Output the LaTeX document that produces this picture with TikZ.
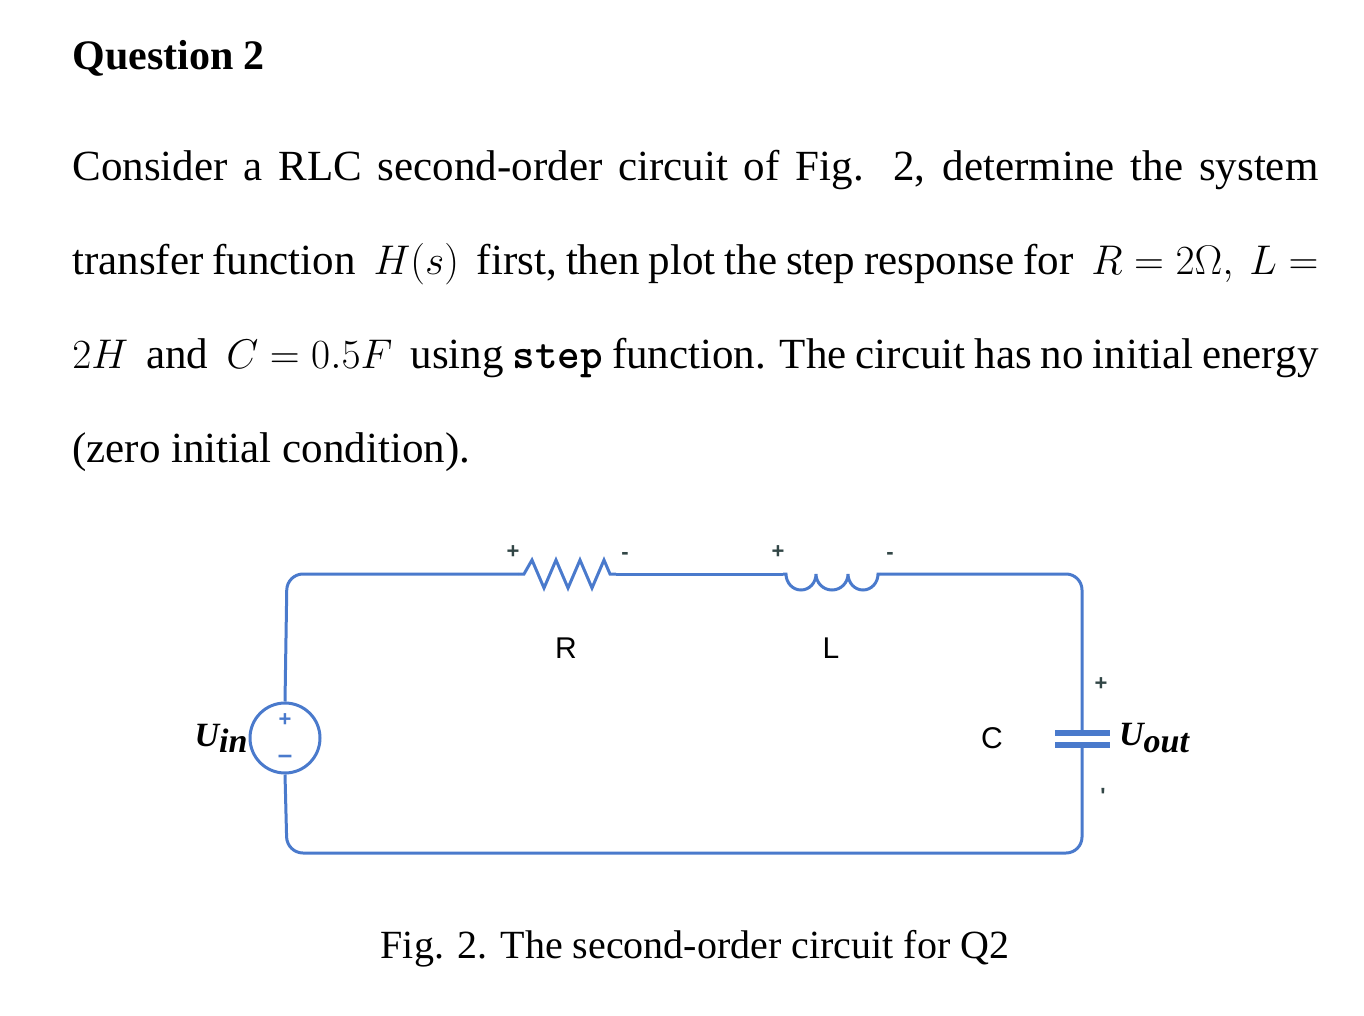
\documentclass[tikz,border=0pt]{standalone}
\usepackage{fontspec}
\setmainfont{Liberation Serif}
\newfontfamily\lsans{Liberation Sans}
\usetikzlibrary{decorations.pathmorphing}
\definecolor{wire}{RGB}{74,122,204}
\definecolor{sgn}{RGB}{50,70,70}
\begin{document}
\begin{tikzpicture}[x=0.5pt,y=-0.5pt,
  w/.style={draw=wire,line width=1.5pt},
  lbl/.style={font=\lsans\fontsize{15}{15}\selectfont},
  sg/.style={font=\lsans\fontsize{11}{11}\selectfont\bfseries,text=sgn,inner sep=0pt}]
\useasboundingbox (0,0) rectangle (1364,1016);
\node[anchor=base west,inner sep=0pt,font=\fontsize{21}{21}\selectfont\bfseries] (title) at (72,70) {Question 2};
\node[anchor=north west,inner sep=0pt,text width=623pt,align=justify,font=\fontsize{21.5}{47}\selectfont] (body) at (72,150)
{Consider a RLC second-order circuit of Fig. 2, determine the system transfer function \ $H(s)$ \ first, then plot the step response for \ $R=2\Omega,\ L=$ $2H$ \ and \ $C=0.5F$ \ using {\ttfamily\bfseries step} function. The circuit has no initial energy (zero initial condition).};
% circuit
\coordinate (tl) at (287,574);
\coordinate (tr) at (1082,574);
\coordinate (bl) at (287,853);
\coordinate (br) at (1082,853);
\coordinate (rs) at (518,574);
\coordinate (re) at (616,574);
\coordinate (ls) at (783,574);
\coordinate (le) at (880,574);
\node[circle,draw=wire,line width=1.5pt,minimum size=35pt,inner sep=0pt] (src) at (285,738) {};
\coordinate (cp) at (1082,733);
\coordinate (cn) at (1082,745);
\draw[w,rounded corners=8pt] (src.north) -- (tl) -- (rs);
\draw[w] (rs) -- (524,574) -- (532,560) -- (544,588) -- (556,560) -- (568,588) -- (580,560) -- (592,588) -- (604,560) -- (610,574) -- (re);
\draw[w] (re) -- (ls);
\draw[w] (ls) -- (786,574) arc[start angle=180,end angle=0,x radius=15,y radius=16]
  arc[start angle=180,end angle=0,x radius=16,y radius=16]
  arc[start angle=180,end angle=0,x radius=15,y radius=16] -- (le);
\draw[w,rounded corners=8pt] (le) -- (tr) -- (cp);
\draw[w,rounded corners=8pt] (cn) -- (br) -- (bl) -- (src.south);
\draw[draw=wire,line width=3pt] (1055,733) -- (1110,733);
\draw[draw=wire,line width=3pt] (1055,745) -- (1110,745);
\node[sg] at (513,552) {+};
\node[sg] at (625,556) {-};
\node[sg] at (778,552) {+};
\node[sg] at (890,556) {-};
\node[sg] at (1101,684) {+};
\node[sg] at (1103,796) {'};
\node[font=\lsans\fontsize{11}{11}\selectfont\bfseries,text=wire,inner sep=0pt] at (285,720) {+};
\node[font=\lsans\fontsize{13}{13}\selectfont\bfseries,text=wire,inner sep=0pt] at (285,759) {\char"2013};
\node[lbl] (rl) at (566,648) {R};
\node[lbl] (ll) at (831,648) {L};
\node[lbl] (cl) at (992,738) {C};
\node[inner sep=0pt,font=\fontsize{17}{17}\selectfont\bfseries\itshape] (uin) at (221,738) {U\raisebox{-0.4ex}{in}};
\node[inner sep=0pt,font=\fontsize{17}{17}\selectfont\bfseries\itshape] (uout) at (1154,738) {U\raisebox{-0.4ex}{out}};
\node[anchor=base,inner sep=0pt,font=\fontsize{20}{20}\selectfont] (cap) at (695,958) {Fig. 2. The second-order circuit for Q2};
\end{tikzpicture}
\end{document}
